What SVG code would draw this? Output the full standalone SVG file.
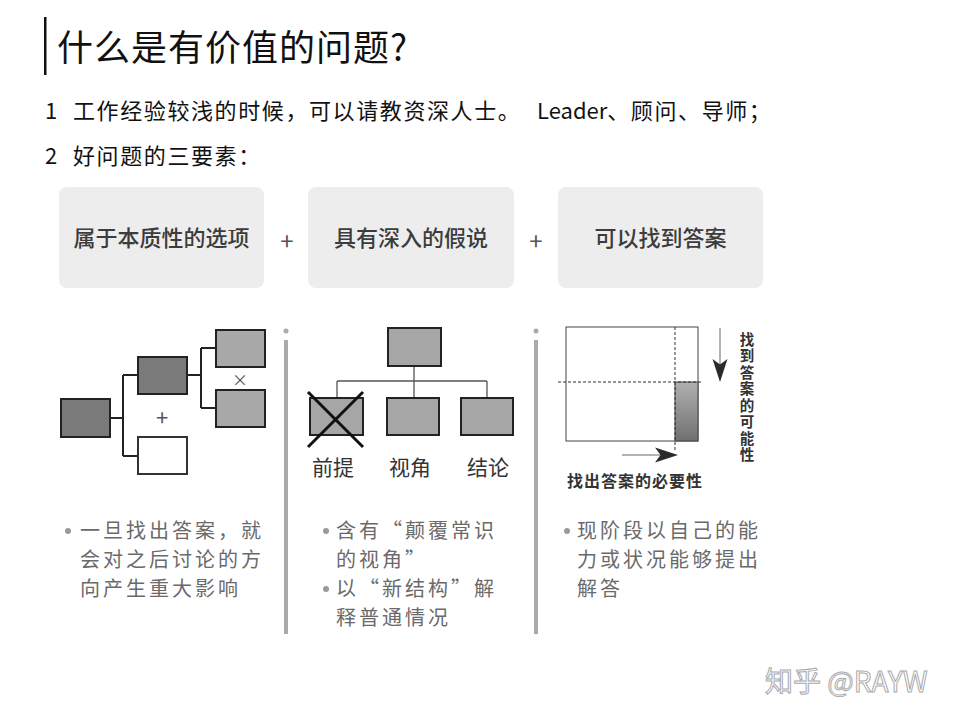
<svg xmlns="http://www.w3.org/2000/svg" width="960" height="720" viewBox="0 0 960 720">
<defs>
<style>
text{font-family:"Noto Sans CJK SC","Noto Sans",sans-serif;}
.title{font-size:36px;fill:#111;letter-spacing:1px;}
.line{font-size:22px;fill:#111;letter-spacing:1.6px;}
.pill{fill:#ededed;}
.pilltxt{font-size:22px;fill:#3c3c3c;text-anchor:middle;font-weight:500;}
.plus{font-size:24px;fill:#555;text-anchor:middle;}
.dk{fill:#7a7a7a;stroke:#222;stroke-width:2;}
.lt{fill:#a8a8a8;stroke:#222;stroke-width:2;}
.wh{fill:#fff;stroke:#333;stroke-width:2;}
.c2{fill:#a6a6a6;stroke:#222;stroke-width:2;}
.conn{fill:none;stroke:#222;stroke-width:2;}
.thin{fill:none;stroke:#555;stroke-width:1.3;}
.lbl{font-size:21px;fill:#333;text-anchor:middle;}
.lbl3{font-size:16px;fill:#333;font-weight:bold;}
.body{font-size:20px;fill:#6a6a6a;letter-spacing:3px;}
.dot{fill:#999;}
.sep{fill:#aaa;}
.dash{fill:none;stroke:#333;stroke-width:1;stroke-dasharray:3 2;}
.shaft{stroke:#9a9a9a;stroke-width:1.5;fill:none;}
.head{fill:#2a2a2a;}
.wm{font-size:28px;fill:#fff;stroke:#aaa;stroke-width:1;}
</style>
<linearGradient id="g1" x1="0" y1="0" x2="0" y2="1">
<stop offset="0" stop-color="#b0b0b0"/>
<stop offset="1" stop-color="#707070"/>
</linearGradient>
</defs>
<rect width="960" height="720" fill="#fff"/>

<g id="header">
<rect x="44" y="17" width="2.5" height="58" fill="#111"/>
<text class="title" x="57" y="61">什么是有价值的问题?</text>
<text class="line" x="45" y="119">1</text>
<text class="line" x="73" y="119">工作经验较浅的时候，可以请教资深人士。<tspan x="537" style="letter-spacing:0">Leader</tspan>、顾问、导师；</text>
<text class="line" x="45" y="164">2</text>
<text class="line" x="73" y="164">好问题的三要素：</text>
</g>

<g id="box-essential">
<rect class="pill" x="59" y="187" width="205" height="101" rx="8"/>
<text class="pilltxt" x="161.5" y="246">属于本质性的选项</text>
</g>
<g id="box-hypothesis">
<rect class="pill" x="308" y="187" width="206" height="101" rx="8"/>
<text class="pilltxt" x="411" y="246">具有深入的假说</text>
</g>
<g id="box-answer">
<rect class="pill" x="558" y="187" width="205" height="101" rx="8"/>
<text class="pilltxt" x="660.5" y="246">可以找到答案</text>
</g>
<g id="plus-signs">
<text class="plus" x="287" y="250">+</text>
<text class="plus" x="536" y="250">+</text>
</g>

<g id="separators">
<circle class="sep" cx="286" cy="331" r="2.5"/>
<rect class="sep" x="284" y="340" width="4" height="294"/>
<circle class="sep" cx="536" cy="331" r="2.5"/>
<rect class="sep" x="534" y="340" width="4" height="294"/>
</g>

<g id="connectors">
<path class="conn" d="M110,418 H123 M123,375 V456 M123,375 H138 M123,456 H138"/>
<path class="conn" d="M187,375 H201 M201,348 V408 M201,348 H216 M201,408 H216"/>
<path class="thin" d="M414,366 V398 M337,381 H487 M337,381 V398 M487,381 V398"/>
<line class="shaft" x1="720" y1="328" x2="720" y2="368"/>
<path class="head" d="M712.5,359 L720,382 L727.5,359 L720,364.5 z"/>
<line class="shaft" x1="622" y1="455" x2="664" y2="455"/>
<path class="head" d="M655,447.5 L678,455 L655,462.5 L660.5,455 z"/>
</g>

<g id="tree-root"><rect class="dk" x="61" y="399" width="49" height="38"/></g>
<g id="tree-b"><rect class="dk" x="138" y="357" width="49" height="37"/></g>
<g id="tree-c"><rect class="wh" x="138" y="437" width="49" height="37"/></g>
<g id="tree-d"><rect class="lt" x="216" y="330" width="49" height="37"/></g>
<g id="tree-e"><rect class="lt" x="216" y="390" width="49" height="37"/></g>
<g id="tree-marks">
<text class="plus" x="162" y="426" style="font-size:22px">+</text>
<text class="plus" x="240" y="386" style="font-size:16px">×</text>
</g>

<g id="hyp-top"><rect class="c2" x="388" y="328" width="53" height="38"/></g>
<g id="hyp-premise">
<rect class="c2" x="310" y="398" width="53" height="37"/>
<path d="M308,392 L363,447 M363,392 L308,447" stroke="#111" stroke-width="3" fill="none"/>
<text class="lbl" x="333" y="475">前提</text>
</g>
<g id="hyp-view">
<rect class="c2" x="387" y="398" width="52" height="37"/>
<text class="lbl" x="410" y="475">视角</text>
</g>
<g id="hyp-conclusion">
<rect class="c2" x="461" y="398" width="52" height="37"/>
<text class="lbl" x="488" y="475">结论</text>
</g>

<g id="answer-matrix">
<rect x="566" y="327" width="132" height="114" fill="#fff" stroke="#444" stroke-width="1"/>
<rect x="675" y="382" width="23" height="59" fill="url(#g1)" stroke="#444" stroke-width="1"/>
<line class="dash" x1="675" y1="327" x2="675" y2="452"/>
<line class="dash" x1="558" y1="382" x2="703" y2="382"/>
<text class="lbl3" x="747" y="332" style="writing-mode:vertical-rl;font-size:14.5px;letter-spacing:2px;font-weight:600">找到答案的可能性</text>
<text class="lbl3" x="567" y="487" style="letter-spacing:1px">找出答案的必要性</text>
</g>

<g id="desc-1">
<circle class="dot" cx="68" cy="531" r="3"/>
<text class="body" x="80" y="538">一旦找出答案，就</text>
<text class="body" x="80" y="567">会对之后讨论的方</text>
<text class="body" x="80" y="596">向产生重大影响</text>
</g>
<g id="desc-2">
<circle class="dot" cx="326" cy="531" r="3"/>
<text class="body" x="336" y="538">含有“颠覆常识</text>
<text class="body" x="336" y="567">的视角”</text>
<circle class="dot" cx="326" cy="589" r="3"/>
<text class="body" x="336" y="596">以“新结构”解</text>
<text class="body" x="336" y="625">释普通情况</text>
</g>
<g id="desc-3">
<circle class="dot" cx="567" cy="531" r="3"/>
<text class="body" x="577" y="538">现阶段以自己的能</text>
<text class="body" x="577" y="567">力或状况能够提出</text>
<text class="body" x="577" y="596">解答</text>
</g>

<g id="watermark">
<text class="wm" x="765" y="692">知乎 @RAYW</text>
</g>
</svg>
